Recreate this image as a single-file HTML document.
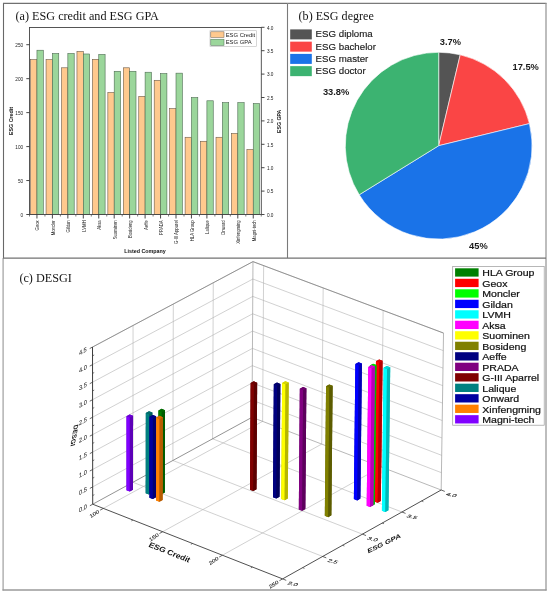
<!DOCTYPE html>
<html><head><meta charset="utf-8"><title>ESG figure</title>
<style>html,body{margin:0;padding:0;background:#fff;width:550px;height:595px;overflow:hidden}svg{display:block}</style>
</head><body>
<svg width="550" height="595" viewBox="0 0 550 595">
<rect width="550" height="595" fill="#fff"/>
<text x="15.5" y="19.6" font-family="Liberation Serif, Times New Roman, serif" font-size="12.2" fill="#151515">(a) ESG credit and ESG GPA</text>
<rect x="30.6" y="59.64" width="6.35" height="154.86" fill="#ffc98e" stroke="#6b5a48" stroke-width="0.6"/>
<rect x="36.95" y="50.23" width="6.35" height="164.27" fill="#9bd69b" stroke="#4d6b52" stroke-width="0.6"/>
<rect x="46.05" y="59.64" width="6.35" height="154.86" fill="#ffc98e" stroke="#6b5a48" stroke-width="0.6"/>
<rect x="52.4" y="53.51" width="6.35" height="160.99" fill="#9bd69b" stroke="#4d6b52" stroke-width="0.6"/>
<rect x="61.5" y="67.79" width="6.35" height="146.71" fill="#ffc98e" stroke="#6b5a48" stroke-width="0.6"/>
<rect x="67.85" y="53.51" width="6.35" height="160.99" fill="#9bd69b" stroke="#4d6b52" stroke-width="0.6"/>
<rect x="76.95" y="51.49" width="6.35" height="163.01" fill="#ffc98e" stroke="#6b5a48" stroke-width="0.6"/>
<rect x="83.3" y="53.98" width="6.35" height="160.52" fill="#9bd69b" stroke="#4d6b52" stroke-width="0.6"/>
<rect x="92.4" y="59.3" width="6.35" height="155.2" fill="#ffc98e" stroke="#6b5a48" stroke-width="0.6"/>
<rect x="98.75" y="54.44" width="6.35" height="160.06" fill="#9bd69b" stroke="#4d6b52" stroke-width="0.6"/>
<rect x="107.85" y="92.52" width="6.35" height="121.98" fill="#ffc98e" stroke="#6b5a48" stroke-width="0.6"/>
<rect x="114.2" y="71.29" width="6.35" height="143.21" fill="#9bd69b" stroke="#4d6b52" stroke-width="0.6"/>
<rect x="123.3" y="67.79" width="6.35" height="146.71" fill="#ffc98e" stroke="#6b5a48" stroke-width="0.6"/>
<rect x="129.65" y="71.29" width="6.35" height="143.21" fill="#9bd69b" stroke="#4d6b52" stroke-width="0.6"/>
<rect x="138.75" y="96.32" width="6.35" height="118.18" fill="#ffc98e" stroke="#6b5a48" stroke-width="0.6"/>
<rect x="145.1" y="72.23" width="6.35" height="142.27" fill="#9bd69b" stroke="#4d6b52" stroke-width="0.6"/>
<rect x="154.2" y="80.29" width="6.35" height="134.21" fill="#ffc98e" stroke="#6b5a48" stroke-width="0.6"/>
<rect x="160.55" y="73.63" width="6.35" height="140.87" fill="#9bd69b" stroke="#4d6b52" stroke-width="0.6"/>
<rect x="169.65" y="108.54" width="6.35" height="105.96" fill="#ffc98e" stroke="#6b5a48" stroke-width="0.6"/>
<rect x="176" y="73.16" width="6.35" height="141.34" fill="#9bd69b" stroke="#4d6b52" stroke-width="0.6"/>
<rect x="185.1" y="137.27" width="6.35" height="77.23" fill="#ffc98e" stroke="#6b5a48" stroke-width="0.6"/>
<rect x="191.45" y="97.5" width="6.35" height="117" fill="#9bd69b" stroke="#4d6b52" stroke-width="0.6"/>
<rect x="200.55" y="141.28" width="6.35" height="73.22" fill="#ffc98e" stroke="#6b5a48" stroke-width="0.6"/>
<rect x="206.9" y="100.78" width="6.35" height="113.72" fill="#9bd69b" stroke="#4d6b52" stroke-width="0.6"/>
<rect x="216" y="137.27" width="6.35" height="77.23" fill="#ffc98e" stroke="#6b5a48" stroke-width="0.6"/>
<rect x="222.35" y="102.65" width="6.35" height="111.85" fill="#9bd69b" stroke="#4d6b52" stroke-width="0.6"/>
<rect x="231.45" y="133.47" width="6.35" height="81.03" fill="#ffc98e" stroke="#6b5a48" stroke-width="0.6"/>
<rect x="237.8" y="102.65" width="6.35" height="111.85" fill="#9bd69b" stroke="#4d6b52" stroke-width="0.6"/>
<rect x="246.9" y="149.57" width="6.35" height="64.93" fill="#ffc98e" stroke="#6b5a48" stroke-width="0.6"/>
<rect x="253.25" y="103.58" width="6.35" height="110.92" fill="#9bd69b" stroke="#4d6b52" stroke-width="0.6"/>
<rect x="29.5" y="27.5" width="231.8" height="187" fill="none" stroke="#444" stroke-width="0.9"/>
<line x1="26.3" y1="214.5" x2="29.5" y2="214.5" stroke="#333" stroke-width="0.9"/>
<text x="23.2" y="216.5" font-family="Liberation Sans, Arial, sans-serif" font-size="4.7" fill="#222" text-anchor="end">0</text>
<line x1="26.3" y1="180.54" x2="29.5" y2="180.54" stroke="#333" stroke-width="0.9"/>
<text x="23.2" y="182.54" font-family="Liberation Sans, Arial, sans-serif" font-size="4.7" fill="#222" text-anchor="end">50</text>
<line x1="26.3" y1="146.58" x2="29.5" y2="146.58" stroke="#333" stroke-width="0.9"/>
<text x="23.2" y="148.58" font-family="Liberation Sans, Arial, sans-serif" font-size="4.7" fill="#222" text-anchor="end">100</text>
<line x1="26.3" y1="112.62" x2="29.5" y2="112.62" stroke="#333" stroke-width="0.9"/>
<text x="23.2" y="114.62" font-family="Liberation Sans, Arial, sans-serif" font-size="4.7" fill="#222" text-anchor="end">150</text>
<line x1="26.3" y1="78.66" x2="29.5" y2="78.66" stroke="#333" stroke-width="0.9"/>
<text x="23.2" y="80.66" font-family="Liberation Sans, Arial, sans-serif" font-size="4.7" fill="#222" text-anchor="end">200</text>
<line x1="26.3" y1="44.7" x2="29.5" y2="44.7" stroke="#333" stroke-width="0.9"/>
<text x="23.2" y="46.7" font-family="Liberation Sans, Arial, sans-serif" font-size="4.7" fill="#222" text-anchor="end">250</text>
<line x1="261.3" y1="214.5" x2="264.5" y2="214.5" stroke="#333" stroke-width="0.9"/>
<text x="266.9" y="216.7" font-family="Liberation Sans, Arial, sans-serif" font-size="4.7" fill="#222">0.0</text>
<line x1="261.3" y1="191.1" x2="264.5" y2="191.1" stroke="#333" stroke-width="0.9"/>
<text x="266.9" y="193.3" font-family="Liberation Sans, Arial, sans-serif" font-size="4.7" fill="#222">0.5</text>
<line x1="261.3" y1="167.7" x2="264.5" y2="167.7" stroke="#333" stroke-width="0.9"/>
<text x="266.9" y="169.9" font-family="Liberation Sans, Arial, sans-serif" font-size="4.7" fill="#222">1.0</text>
<line x1="261.3" y1="144.3" x2="264.5" y2="144.3" stroke="#333" stroke-width="0.9"/>
<text x="266.9" y="146.5" font-family="Liberation Sans, Arial, sans-serif" font-size="4.7" fill="#222">1.5</text>
<line x1="261.3" y1="120.9" x2="264.5" y2="120.9" stroke="#333" stroke-width="0.9"/>
<text x="266.9" y="123.1" font-family="Liberation Sans, Arial, sans-serif" font-size="4.7" fill="#222">2.0</text>
<line x1="261.3" y1="97.5" x2="264.5" y2="97.5" stroke="#333" stroke-width="0.9"/>
<text x="266.9" y="99.7" font-family="Liberation Sans, Arial, sans-serif" font-size="4.7" fill="#222">2.5</text>
<line x1="261.3" y1="74.1" x2="264.5" y2="74.1" stroke="#333" stroke-width="0.9"/>
<text x="266.9" y="76.3" font-family="Liberation Sans, Arial, sans-serif" font-size="4.7" fill="#222">3.0</text>
<line x1="261.3" y1="50.7" x2="264.5" y2="50.7" stroke="#333" stroke-width="0.9"/>
<text x="266.9" y="52.9" font-family="Liberation Sans, Arial, sans-serif" font-size="4.7" fill="#222">3.5</text>
<line x1="261.3" y1="27.3" x2="264.5" y2="27.3" stroke="#333" stroke-width="0.9"/>
<text x="266.9" y="29.5" font-family="Liberation Sans, Arial, sans-serif" font-size="4.7" fill="#222">4.0</text>
<line x1="29.5" y1="214.5" x2="29.5" y2="216.5" stroke="#444" stroke-width="0.7"/>
<line x1="44.95" y1="214.5" x2="44.95" y2="216.5" stroke="#444" stroke-width="0.7"/>
<line x1="60.4" y1="214.5" x2="60.4" y2="216.5" stroke="#444" stroke-width="0.7"/>
<line x1="75.85" y1="214.5" x2="75.85" y2="216.5" stroke="#444" stroke-width="0.7"/>
<line x1="91.3" y1="214.5" x2="91.3" y2="216.5" stroke="#444" stroke-width="0.7"/>
<line x1="106.75" y1="214.5" x2="106.75" y2="216.5" stroke="#444" stroke-width="0.7"/>
<line x1="122.2" y1="214.5" x2="122.2" y2="216.5" stroke="#444" stroke-width="0.7"/>
<line x1="137.65" y1="214.5" x2="137.65" y2="216.5" stroke="#444" stroke-width="0.7"/>
<line x1="153.1" y1="214.5" x2="153.1" y2="216.5" stroke="#444" stroke-width="0.7"/>
<line x1="168.55" y1="214.5" x2="168.55" y2="216.5" stroke="#444" stroke-width="0.7"/>
<line x1="184" y1="214.5" x2="184" y2="216.5" stroke="#444" stroke-width="0.7"/>
<line x1="199.45" y1="214.5" x2="199.45" y2="216.5" stroke="#444" stroke-width="0.7"/>
<line x1="214.9" y1="214.5" x2="214.9" y2="216.5" stroke="#444" stroke-width="0.7"/>
<line x1="230.35" y1="214.5" x2="230.35" y2="216.5" stroke="#444" stroke-width="0.7"/>
<line x1="245.8" y1="214.5" x2="245.8" y2="216.5" stroke="#444" stroke-width="0.7"/>
<line x1="261.25" y1="214.5" x2="261.25" y2="216.5" stroke="#444" stroke-width="0.7"/>
<line x1="36.95" y1="214.5" x2="36.95" y2="218.5" stroke="#333" stroke-width="0.9"/>
<text transform="translate(39.35,220.3) rotate(-90) scale(0.9,1)" font-family="Liberation Sans, Arial, sans-serif" font-size="4.7" fill="#222" text-anchor="end">Geox</text>
<line x1="52.4" y1="214.5" x2="52.4" y2="218.5" stroke="#333" stroke-width="0.9"/>
<text transform="translate(54.8,220.3) rotate(-90) scale(0.9,1)" font-family="Liberation Sans, Arial, sans-serif" font-size="4.7" fill="#222" text-anchor="end">Moncler</text>
<line x1="67.85" y1="214.5" x2="67.85" y2="218.5" stroke="#333" stroke-width="0.9"/>
<text transform="translate(70.25,220.3) rotate(-90) scale(0.9,1)" font-family="Liberation Sans, Arial, sans-serif" font-size="4.7" fill="#222" text-anchor="end">Gildan</text>
<line x1="83.3" y1="214.5" x2="83.3" y2="218.5" stroke="#333" stroke-width="0.9"/>
<text transform="translate(85.7,220.3) rotate(-90) scale(0.9,1)" font-family="Liberation Sans, Arial, sans-serif" font-size="4.7" fill="#222" text-anchor="end">LVMH</text>
<line x1="98.75" y1="214.5" x2="98.75" y2="218.5" stroke="#333" stroke-width="0.9"/>
<text transform="translate(101.15,220.3) rotate(-90) scale(0.9,1)" font-family="Liberation Sans, Arial, sans-serif" font-size="4.7" fill="#222" text-anchor="end">Aksa</text>
<line x1="114.2" y1="214.5" x2="114.2" y2="218.5" stroke="#333" stroke-width="0.9"/>
<text transform="translate(116.6,220.3) rotate(-90) scale(0.9,1)" font-family="Liberation Sans, Arial, sans-serif" font-size="4.7" fill="#222" text-anchor="end">Suominen</text>
<line x1="129.65" y1="214.5" x2="129.65" y2="218.5" stroke="#333" stroke-width="0.9"/>
<text transform="translate(132.05,220.3) rotate(-90) scale(0.9,1)" font-family="Liberation Sans, Arial, sans-serif" font-size="4.7" fill="#222" text-anchor="end">Bosideng</text>
<line x1="145.1" y1="214.5" x2="145.1" y2="218.5" stroke="#333" stroke-width="0.9"/>
<text transform="translate(147.5,220.3) rotate(-90) scale(0.9,1)" font-family="Liberation Sans, Arial, sans-serif" font-size="4.7" fill="#222" text-anchor="end">Aeffe</text>
<line x1="160.55" y1="214.5" x2="160.55" y2="218.5" stroke="#333" stroke-width="0.9"/>
<text transform="translate(162.95,220.3) rotate(-90) scale(0.9,1)" font-family="Liberation Sans, Arial, sans-serif" font-size="4.7" fill="#222" text-anchor="end">PRADA</text>
<line x1="176" y1="214.5" x2="176" y2="218.5" stroke="#333" stroke-width="0.9"/>
<text transform="translate(178.4,220.3) rotate(-90) scale(0.9,1)" font-family="Liberation Sans, Arial, sans-serif" font-size="4.7" fill="#222" text-anchor="end">G-III Apparel</text>
<line x1="191.45" y1="214.5" x2="191.45" y2="218.5" stroke="#333" stroke-width="0.9"/>
<text transform="translate(193.85,220.3) rotate(-90) scale(0.9,1)" font-family="Liberation Sans, Arial, sans-serif" font-size="4.7" fill="#222" text-anchor="end">HLA Group</text>
<line x1="206.9" y1="214.5" x2="206.9" y2="218.5" stroke="#333" stroke-width="0.9"/>
<text transform="translate(209.3,220.3) rotate(-90) scale(0.9,1)" font-family="Liberation Sans, Arial, sans-serif" font-size="4.7" fill="#222" text-anchor="end">Lalique</text>
<line x1="222.35" y1="214.5" x2="222.35" y2="218.5" stroke="#333" stroke-width="0.9"/>
<text transform="translate(224.75,220.3) rotate(-90) scale(0.9,1)" font-family="Liberation Sans, Arial, sans-serif" font-size="4.7" fill="#222" text-anchor="end">Onward</text>
<line x1="237.8" y1="214.5" x2="237.8" y2="218.5" stroke="#333" stroke-width="0.9"/>
<text transform="translate(240.2,220.3) rotate(-90) scale(0.9,1)" font-family="Liberation Sans, Arial, sans-serif" font-size="4.7" fill="#222" text-anchor="end">Xinfengming</text>
<line x1="253.25" y1="214.5" x2="253.25" y2="218.5" stroke="#333" stroke-width="0.9"/>
<text transform="translate(255.65,220.3) rotate(-90) scale(0.9,1)" font-family="Liberation Sans, Arial, sans-serif" font-size="4.7" fill="#222" text-anchor="end">Magni-tech</text>
<text x="145" y="253.3" font-family="Liberation Sans, Arial, sans-serif" font-size="5.35" font-weight="bold" fill="#111" text-anchor="middle">Listed Company</text>
<text transform="translate(12.7,121) rotate(-90)" font-family="Liberation Sans, Arial, sans-serif" font-size="5.35" font-weight="bold" fill="#111" text-anchor="middle">ESG Credit</text>
<text transform="translate(280.6,121.3) rotate(-90)" font-family="Liberation Sans, Arial, sans-serif" font-size="5.2" font-weight="bold" fill="#111" text-anchor="middle">ESG GPA</text>
<rect x="210" y="30.7" width="46.5" height="15.6" fill="#fff" stroke="#bbb" stroke-width="0.6"/>
<rect x="210.8" y="31.8" width="13.2" height="5.6" fill="#ffc98e" stroke="#6b5a48" stroke-width="0.5"/>
<rect x="210.8" y="39.2" width="13.2" height="6.2" fill="#9bd69b" stroke="#4d6b52" stroke-width="0.5"/>
<text x="225.7" y="37" font-family="Liberation Sans, Arial, sans-serif" font-size="5.85" fill="#222">ESG Credit</text>
<text x="225.7" y="44.3" font-family="Liberation Sans, Arial, sans-serif" font-size="5.85" fill="#222">ESG GPA</text>
<text x="298.6" y="19.8" font-family="Liberation Serif, Times New Roman, serif" font-size="12.1" fill="#151515">(b) ESG degree</text>
<path d="M438.7,145.7 L438.7,52.3 A93.4,93.4 0 0 1 460.22,54.81 Z" fill="#545454" stroke="#fff" stroke-width="0.6" stroke-linejoin="round"/>
<path d="M438.7,145.7 L460.22,54.81 A93.4,93.4 0 0 1 529.45,123.61 Z" fill="#fa4545" stroke="#fff" stroke-width="0.6" stroke-linejoin="round"/>
<path d="M438.7,145.7 L529.45,123.61 A93.4,93.4 0 0 1 359.22,194.75 Z" fill="#1a73e8" stroke="#fff" stroke-width="0.6" stroke-linejoin="round"/>
<path d="M438.7,145.7 L359.22,194.75 A93.4,93.4 0 0 1 438.7,52.3 Z" fill="#3cb371" stroke="#fff" stroke-width="0.6" stroke-linejoin="round"/>
<rect x="290.2" y="29.4" width="21.6" height="10" fill="#545454"/>
<text x="315.6" y="37.4" font-family="Liberation Sans, Arial, sans-serif" font-size="9.7" fill="#1a1a1a" stroke="#1a1a1a" stroke-width="0.15">ESG diploma</text>
<rect x="290.2" y="41.65" width="21.6" height="10" fill="#fa4545"/>
<text x="315.6" y="49.65" font-family="Liberation Sans, Arial, sans-serif" font-size="9.7" fill="#1a1a1a" stroke="#1a1a1a" stroke-width="0.15">ESG bachelor</text>
<rect x="290.2" y="53.9" width="21.6" height="10" fill="#1a73e8"/>
<text x="315.6" y="61.9" font-family="Liberation Sans, Arial, sans-serif" font-size="9.7" fill="#1a1a1a" stroke="#1a1a1a" stroke-width="0.15">ESG master</text>
<rect x="290.2" y="66.15" width="21.6" height="10" fill="#3cb371"/>
<text x="315.6" y="74.15" font-family="Liberation Sans, Arial, sans-serif" font-size="9.7" fill="#1a1a1a" stroke="#1a1a1a" stroke-width="0.15">ESG doctor</text>
<text x="439.8" y="44.8" font-family="Liberation Sans, Arial, sans-serif" font-size="9.3" font-weight="bold" fill="#1a1a1a">3.7%</text>
<text x="512.5" y="70.4" font-family="Liberation Sans, Arial, sans-serif" font-size="9.3" font-weight="bold" fill="#1a1a1a">17.5%</text>
<text x="469.1" y="248.5" font-family="Liberation Sans, Arial, sans-serif" font-size="9.3" font-weight="bold" fill="#1a1a1a">45%</text>
<text x="322.9" y="94.6" font-family="Liberation Sans, Arial, sans-serif" font-size="9.3" font-weight="bold" fill="#1a1a1a">33.8%</text>
<text x="19.4" y="282.4" font-family="Liberation Serif, Times New Roman, serif" font-size="12.2" fill="#151515">(c) DESGI</text>
<line x1="92.69" y1="486.86" x2="252.12" y2="400.12" stroke="#b2b2b2" stroke-width="0.6"/>
<line x1="92.67" y1="469.48" x2="252.23" y2="382.9" stroke="#b2b2b2" stroke-width="0.6"/>
<line x1="92.65" y1="452.07" x2="252.34" y2="365.66" stroke="#b2b2b2" stroke-width="0.6"/>
<line x1="92.63" y1="434.64" x2="252.44" y2="348.39" stroke="#b2b2b2" stroke-width="0.6"/>
<line x1="92.61" y1="417.18" x2="252.55" y2="331.09" stroke="#b2b2b2" stroke-width="0.6"/>
<line x1="92.59" y1="399.69" x2="252.66" y2="313.77" stroke="#b2b2b2" stroke-width="0.6"/>
<line x1="92.57" y1="382.17" x2="252.77" y2="296.41" stroke="#b2b2b2" stroke-width="0.6"/>
<line x1="92.55" y1="364.62" x2="252.87" y2="279.03" stroke="#b2b2b2" stroke-width="0.6"/>
<line x1="92.53" y1="347.05" x2="252.98" y2="261.62" stroke="#b2b2b2" stroke-width="0.6"/>
<line x1="132.94" y1="482.27" x2="133.05" y2="325.48" stroke="#b2b2b2" stroke-width="0.6"/>
<line x1="172.9" y1="460.47" x2="173.3" y2="304.05" stroke="#b2b2b2" stroke-width="0.6"/>
<line x1="212.59" y1="438.82" x2="213.27" y2="282.77" stroke="#b2b2b2" stroke-width="0.6"/>
<line x1="252.12" y1="400.12" x2="441.43" y2="472.68" stroke="#b2b2b2" stroke-width="0.6"/>
<line x1="252.23" y1="382.9" x2="441.69" y2="455.33" stroke="#b2b2b2" stroke-width="0.6"/>
<line x1="252.34" y1="365.66" x2="441.95" y2="437.94" stroke="#b2b2b2" stroke-width="0.6"/>
<line x1="252.44" y1="348.39" x2="442.21" y2="420.53" stroke="#b2b2b2" stroke-width="0.6"/>
<line x1="252.55" y1="331.09" x2="442.47" y2="403.1" stroke="#b2b2b2" stroke-width="0.6"/>
<line x1="252.66" y1="313.77" x2="442.74" y2="385.63" stroke="#b2b2b2" stroke-width="0.6"/>
<line x1="252.77" y1="296.41" x2="443" y2="368.14" stroke="#b2b2b2" stroke-width="0.6"/>
<line x1="252.87" y1="279.03" x2="443.26" y2="350.61" stroke="#b2b2b2" stroke-width="0.6"/>
<line x1="252.98" y1="261.62" x2="443.52" y2="333.06" stroke="#b2b2b2" stroke-width="0.6"/>
<line x1="262.61" y1="421.38" x2="263.65" y2="265.62" stroke="#b2b2b2" stroke-width="0.6"/>
<line x1="321.71" y1="444.09" x2="323.18" y2="287.94" stroke="#b2b2b2" stroke-width="0.6"/>
<line x1="381.23" y1="466.97" x2="383.13" y2="310.42" stroke="#b2b2b2" stroke-width="0.6"/>
<line x1="103.34" y1="508.39" x2="262.61" y2="421.38" stroke="#b2b2b2" stroke-width="0.6"/>
<line x1="162.67" y1="531.73" x2="321.71" y2="444.09" stroke="#b2b2b2" stroke-width="0.6"/>
<line x1="222.42" y1="555.23" x2="381.23" y2="466.97" stroke="#b2b2b2" stroke-width="0.6"/>
<line x1="132.94" y1="482.27" x2="322.65" y2="556.45" stroke="#b2b2b2" stroke-width="0.6"/>
<line x1="172.9" y1="460.47" x2="362.42" y2="534.16" stroke="#b2b2b2" stroke-width="0.6"/>
<line x1="212.59" y1="438.82" x2="401.93" y2="512.01" stroke="#b2b2b2" stroke-width="0.6"/>
<line x1="92.53" y1="347.05" x2="252.98" y2="261.62" stroke="#777" stroke-width="0.7"/>
<line x1="252.98" y1="261.62" x2="443.52" y2="333.06" stroke="#777" stroke-width="0.7"/>
<line x1="252.02" y1="417.31" x2="252.98" y2="261.62" stroke="#999" stroke-width="0.7"/>
<line x1="441.18" y1="490.01" x2="443.52" y2="333.06" stroke="#999" stroke-width="0.7"/>
<line x1="92.71" y1="504.21" x2="252.02" y2="417.31" stroke="#666" stroke-width="0.7"/>
<line x1="252.02" y1="417.31" x2="441.18" y2="490.01" stroke="#888" stroke-width="0.6"/>
<line x1="92.71" y1="504.21" x2="92.53" y2="347.05" stroke="#3c3c3c" stroke-width="1.0"/>
<line x1="92.71" y1="504.21" x2="282.6" y2="578.9" stroke="#3c3c3c" stroke-width="0.9"/>
<line x1="282.6" y1="578.9" x2="441.18" y2="490.01" stroke="#3c3c3c" stroke-width="0.9"/>
<line x1="92.71" y1="504.21" x2="89.89" y2="505.75" stroke="#3c3c3c" stroke-width="0.8"/>
<text transform="matrix(0.88,-0.47,0,1,79.11,512.61)" font-family="Liberation Sans, Arial, sans-serif" font-size="6.4" fill="#2a2a2a" stroke="#2a2a2a" stroke-width="0.06">0.0</text>
<line x1="92.7" y1="495.54" x2="94.32" y2="494.66" stroke="#3c3c3c" stroke-width="0.7"/>
<line x1="92.69" y1="486.86" x2="89.86" y2="488.4" stroke="#3c3c3c" stroke-width="0.8"/>
<text transform="matrix(0.88,-0.47,0,1,79.09,495.26)" font-family="Liberation Sans, Arial, sans-serif" font-size="6.4" fill="#2a2a2a" stroke="#2a2a2a" stroke-width="0.06">0.5</text>
<line x1="92.68" y1="478.17" x2="94.3" y2="477.3" stroke="#3c3c3c" stroke-width="0.7"/>
<line x1="92.67" y1="469.48" x2="89.84" y2="471.02" stroke="#3c3c3c" stroke-width="0.8"/>
<text transform="matrix(0.88,-0.47,0,1,79.07,477.88)" font-family="Liberation Sans, Arial, sans-serif" font-size="6.4" fill="#2a2a2a" stroke="#2a2a2a" stroke-width="0.06">1.0</text>
<line x1="92.66" y1="460.78" x2="94.28" y2="459.9" stroke="#3c3c3c" stroke-width="0.7"/>
<line x1="92.65" y1="452.07" x2="89.82" y2="453.61" stroke="#3c3c3c" stroke-width="0.8"/>
<text transform="matrix(0.88,-0.47,0,1,79.05,460.47)" font-family="Liberation Sans, Arial, sans-serif" font-size="6.4" fill="#2a2a2a" stroke="#2a2a2a" stroke-width="0.06">1.5</text>
<line x1="92.64" y1="443.36" x2="94.26" y2="442.49" stroke="#3c3c3c" stroke-width="0.7"/>
<line x1="92.63" y1="434.64" x2="89.8" y2="436.17" stroke="#3c3c3c" stroke-width="0.8"/>
<text transform="matrix(0.88,-0.47,0,1,79.03,443.04)" font-family="Liberation Sans, Arial, sans-serif" font-size="6.4" fill="#2a2a2a" stroke="#2a2a2a" stroke-width="0.06">2.0</text>
<line x1="92.62" y1="425.91" x2="94.24" y2="425.04" stroke="#3c3c3c" stroke-width="0.7"/>
<line x1="92.61" y1="417.18" x2="89.78" y2="418.71" stroke="#3c3c3c" stroke-width="0.8"/>
<text transform="matrix(0.88,-0.47,0,1,79.01,425.58)" font-family="Liberation Sans, Arial, sans-serif" font-size="6.4" fill="#2a2a2a" stroke="#2a2a2a" stroke-width="0.06">2.5</text>
<line x1="92.6" y1="408.44" x2="94.22" y2="407.56" stroke="#3c3c3c" stroke-width="0.7"/>
<line x1="92.59" y1="399.69" x2="89.75" y2="401.21" stroke="#3c3c3c" stroke-width="0.8"/>
<text transform="matrix(0.88,-0.47,0,1,78.99,408.09)" font-family="Liberation Sans, Arial, sans-serif" font-size="6.4" fill="#2a2a2a" stroke="#2a2a2a" stroke-width="0.06">3.0</text>
<line x1="92.58" y1="390.93" x2="94.21" y2="390.06" stroke="#3c3c3c" stroke-width="0.7"/>
<line x1="92.57" y1="382.17" x2="89.73" y2="383.69" stroke="#3c3c3c" stroke-width="0.8"/>
<text transform="matrix(0.88,-0.47,0,1,78.97,390.57)" font-family="Liberation Sans, Arial, sans-serif" font-size="6.4" fill="#2a2a2a" stroke="#2a2a2a" stroke-width="0.06">3.5</text>
<line x1="92.56" y1="373.4" x2="94.19" y2="372.53" stroke="#3c3c3c" stroke-width="0.7"/>
<line x1="92.55" y1="364.62" x2="89.71" y2="366.14" stroke="#3c3c3c" stroke-width="0.8"/>
<text transform="matrix(0.88,-0.47,0,1,78.95,373.02)" font-family="Liberation Sans, Arial, sans-serif" font-size="6.4" fill="#2a2a2a" stroke="#2a2a2a" stroke-width="0.06">4.0</text>
<line x1="92.54" y1="355.84" x2="94.17" y2="354.97" stroke="#3c3c3c" stroke-width="0.7"/>
<line x1="92.53" y1="347.05" x2="89.69" y2="348.56" stroke="#3c3c3c" stroke-width="0.8"/>
<text transform="matrix(0.88,-0.47,0,1,78.93,355.45)" font-family="Liberation Sans, Arial, sans-serif" font-size="6.4" fill="#2a2a2a" stroke="#2a2a2a" stroke-width="0.06">4.5</text>
<line x1="103.34" y1="508.39" x2="100.11" y2="510.16" stroke="#3c3c3c" stroke-width="0.8"/>
<text transform="matrix(0.84,-0.55,0.38,0.68,95.34,515.39)" font-family="Liberation Sans, Arial, sans-serif" font-size="6.4" fill="#222" stroke="#222" stroke-width="0.12" text-anchor="middle">100</text>
<line x1="162.67" y1="531.73" x2="159.44" y2="533.5" stroke="#3c3c3c" stroke-width="0.8"/>
<text transform="matrix(0.84,-0.55,0.38,0.68,154.67,538.73)" font-family="Liberation Sans, Arial, sans-serif" font-size="6.4" fill="#222" stroke="#222" stroke-width="0.12" text-anchor="middle">150</text>
<line x1="222.42" y1="555.23" x2="219.2" y2="557.02" stroke="#3c3c3c" stroke-width="0.8"/>
<text transform="matrix(0.84,-0.55,0.38,0.68,214.42,562.23)" font-family="Liberation Sans, Arial, sans-serif" font-size="6.4" fill="#222" stroke="#222" stroke-width="0.12" text-anchor="middle">200</text>
<line x1="282.6" y1="578.9" x2="279.39" y2="580.71" stroke="#3c3c3c" stroke-width="0.8"/>
<text transform="matrix(0.84,-0.55,0.38,0.68,274.6,585.9)" font-family="Liberation Sans, Arial, sans-serif" font-size="6.4" fill="#222" stroke="#222" stroke-width="0.12" text-anchor="middle">250</text>
<line x1="132.95" y1="520.04" x2="131.34" y2="520.92" stroke="#3c3c3c" stroke-width="0.7"/>
<line x1="192.49" y1="543.46" x2="190.88" y2="544.35" stroke="#3c3c3c" stroke-width="0.7"/>
<line x1="252.45" y1="567.04" x2="250.85" y2="567.94" stroke="#3c3c3c" stroke-width="0.7"/>
<line x1="282.6" y1="578.9" x2="286.23" y2="580.33" stroke="#3c3c3c" stroke-width="0.8"/>
<text transform="matrix(0.98,0.2,-0.5,0.55,291.6,585.2)" font-family="Liberation Sans, Arial, sans-serif" font-size="7.2" fill="#222" stroke="#222" stroke-width="0.15" text-anchor="middle">2.0</text>
<line x1="322.65" y1="556.45" x2="326.27" y2="557.87" stroke="#3c3c3c" stroke-width="0.8"/>
<text transform="matrix(0.98,0.2,-0.5,0.55,331.65,562.75)" font-family="Liberation Sans, Arial, sans-serif" font-size="7.2" fill="#222" stroke="#222" stroke-width="0.15" text-anchor="middle">2.5</text>
<line x1="362.42" y1="534.16" x2="366.04" y2="535.56" stroke="#3c3c3c" stroke-width="0.8"/>
<text transform="matrix(0.98,0.2,-0.5,0.55,371.42,540.46)" font-family="Liberation Sans, Arial, sans-serif" font-size="7.2" fill="#222" stroke="#222" stroke-width="0.15" text-anchor="middle">3.0</text>
<line x1="401.93" y1="512.01" x2="405.55" y2="513.4" stroke="#3c3c3c" stroke-width="0.8"/>
<text transform="matrix(0.98,0.2,-0.5,0.55,410.93,518.31)" font-family="Liberation Sans, Arial, sans-serif" font-size="7.2" fill="#222" stroke="#222" stroke-width="0.15" text-anchor="middle">3.5</text>
<line x1="441.18" y1="490.01" x2="444.79" y2="491.4" stroke="#3c3c3c" stroke-width="0.8"/>
<text transform="matrix(0.98,0.2,-0.5,0.55,450.18,496.31)" font-family="Liberation Sans, Arial, sans-serif" font-size="7.2" fill="#222" stroke="#222" stroke-width="0.15" text-anchor="middle">4.0</text>
<line x1="302.66" y1="567.66" x2="304.47" y2="568.37" stroke="#3c3c3c" stroke-width="0.7"/>
<line x1="342.57" y1="545.29" x2="344.38" y2="545.99" stroke="#3c3c3c" stroke-width="0.7"/>
<line x1="382.21" y1="523.06" x2="384.02" y2="523.76" stroke="#3c3c3c" stroke-width="0.7"/>
<line x1="421.59" y1="500.99" x2="423.39" y2="501.69" stroke="#3c3c3c" stroke-width="0.7"/>
<text transform="matrix(0.93,0.37,-0.45,0.8,168.3,554.5)" font-family="Liberation Sans, Arial, sans-serif" font-size="8.3" font-weight="bold" fill="#111" text-anchor="middle">ESG Credit</text>
<text transform="matrix(0.9,-0.44,0.15,0.75,384.5,545.5)" font-family="Liberation Sans, Arial, sans-serif" font-size="8.2" font-weight="bold" fill="#111" text-anchor="middle">ESG GPA</text>
<text transform="matrix(-0.17,0.985,-0.92,0.25,72.2,436)" font-family="Liberation Sans, Arial, sans-serif" font-size="7" font-weight="bold" fill="#111" text-anchor="middle">DESGI</text>
<polygon points="126.47,490.31 129.78,491.61 132.99,489.85 133.04,415.86 129.72,414.58 126.5,416.32" fill="#6600cc"/>
<polygon points="126.47,490.31 129.78,491.61 129.82,417.6 126.5,416.32" fill="#8000ff"/>
<polygon points="129.78,491.61 132.99,489.85 133.04,415.86 129.82,417.6" fill="#5c00b7"/>
<polygon points="126.5,416.32 129.82,417.6 133.04,415.86 129.72,414.58" fill="#6c00d8"/>
<polygon points="145.71,493.33 149.02,494.62 152.23,492.87 152.35,412.57 149.02,411.29 145.8,413.03" fill="#006666"/>
<polygon points="145.71,493.33 149.02,494.62 149.13,414.31 145.8,413.03" fill="#008080"/>
<polygon points="149.02,494.62 152.23,492.87 152.35,412.57 149.13,414.31" fill="#005c5c"/>
<polygon points="145.8,413.03 149.13,414.31 152.35,412.57 149.02,411.29" fill="#006c6c"/>
<polygon points="158.3,492.98 161.61,494.28 164.82,492.52 164.99,410.14 161.66,408.85 158.45,410.59" fill="#006600"/>
<polygon points="158.3,492.98 161.61,494.28 161.77,411.88 158.45,410.59" fill="#008000"/>
<polygon points="161.61,494.28 164.82,492.52 164.99,410.14 161.77,411.88" fill="#005c00"/>
<polygon points="158.45,410.59 161.77,411.88 164.99,410.14 161.66,408.85" fill="#006c00"/>
<polygon points="249.99,489.74 253.32,491.04 256.5,489.28 257.17,382.65 253.83,381.37 250.63,383.1" fill="#660000"/>
<polygon points="249.99,489.74 253.32,491.04 253.98,384.38 250.63,383.1" fill="#800000"/>
<polygon points="253.32,491.04 256.5,489.28 257.17,382.65 253.98,384.38" fill="#5c0000"/>
<polygon points="250.63,383.1 253.98,384.38 257.17,382.65 253.83,381.37" fill="#6c0000"/>
<polygon points="149.47,497.81 152.79,499.11 156,497.35 156.14,416.32 152.81,415.03 149.59,416.78" fill="#000080"/>
<polygon points="149.47,497.81 152.79,499.11 152.91,418.06 149.59,416.78" fill="#0000a0"/>
<polygon points="152.79,499.11 156,497.35 156.14,416.32 152.91,418.06" fill="#000073"/>
<polygon points="149.59,416.78 152.91,418.06 156.14,416.32 152.81,415.03" fill="#000088"/>
<polygon points="156.1,500.41 159.42,501.71 162.63,499.95 162.8,417.15 159.47,415.86 156.25,417.6" fill="#cc6600"/>
<polygon points="156.1,500.41 159.42,501.71 159.58,418.89 156.25,417.6" fill="#ff8000"/>
<polygon points="159.42,501.71 162.63,499.95 162.8,417.15 159.58,418.89" fill="#b75c00"/>
<polygon points="156.25,417.6 159.58,418.89 162.8,417.15 159.47,415.86" fill="#d86c00"/>
<polygon points="273.01,497.2 276.35,498.49 279.53,496.74 280.36,383.89 277.01,382.61 273.81,384.34" fill="#000066"/>
<polygon points="273.01,497.2 276.35,498.49 277.17,385.63 273.81,384.34" fill="#000080"/>
<polygon points="276.35,498.49 279.53,496.74 280.36,383.89 277.17,385.63" fill="#00005c"/>
<polygon points="273.81,384.34 277.17,385.63 280.36,383.89 277.01,382.61" fill="#00006c"/>
<polygon points="281.28,498.91 284.62,500.21 287.8,498.45 288.7,382.43 285.34,381.15 282.15,382.89" fill="#cccc00"/>
<polygon points="281.28,498.91 284.62,500.21 285.51,384.17 282.15,382.89" fill="#ffff00"/>
<polygon points="284.62,500.21 287.8,498.45 288.7,382.43 285.51,384.17" fill="#b7b700"/>
<polygon points="282.15,382.89 285.51,384.17 288.7,382.43 285.34,381.15" fill="#d8d800"/>
<polygon points="353.89,499.08 357.25,500.38 360.4,498.62 361.92,363.49 358.54,362.21 355.36,363.94" fill="#0000cc"/>
<polygon points="353.89,499.08 357.25,500.38 358.74,365.22 355.36,363.94" fill="#0000ff"/>
<polygon points="357.25,500.38 360.4,498.62 361.92,363.49 358.74,365.22" fill="#0000b7"/>
<polygon points="355.36,363.94 358.74,365.22 361.92,363.49 358.54,362.21" fill="#0000d8"/>
<polygon points="374.31,501.57 377.67,502.87 380.82,501.11 382.52,360.67 379.14,359.39 375.97,361.13" fill="#cc0000"/>
<polygon points="374.31,501.57 377.67,502.87 379.35,362.41 375.97,361.13" fill="#ff0000"/>
<polygon points="377.67,502.87 380.82,501.11 382.52,360.67 379.35,362.41" fill="#b70000"/>
<polygon points="375.97,361.13 379.35,362.41 382.52,360.67 379.14,359.39" fill="#d80000"/>
<polygon points="368.29,504.65 371.65,505.95 374.8,504.19 376.46,364.94 373.07,363.66 369.9,365.39" fill="#00cc00"/>
<polygon points="368.29,504.65 371.65,505.95 373.28,366.67 369.9,365.39" fill="#00ff00"/>
<polygon points="371.65,505.95 374.8,504.19 376.46,364.94 373.28,366.67" fill="#00b700"/>
<polygon points="369.9,365.39 373.28,366.67 376.46,364.94 373.07,363.66" fill="#00d800"/>
<polygon points="366.71,505.77 370.07,507.07 373.23,505.31 374.87,366.56 371.48,365.28 368.31,367.02" fill="#cc00cc"/>
<polygon points="366.71,505.77 370.07,507.07 371.69,368.3 368.31,367.02" fill="#ff00ff"/>
<polygon points="370.07,507.07 373.23,505.31 374.87,366.56 371.69,368.3" fill="#b700b7"/>
<polygon points="368.31,367.02 371.69,368.3 374.87,366.56 371.48,365.28" fill="#d800d8"/>
<polygon points="298.82,509.48 302.17,510.78 305.34,509.01 306.38,388.3 303.01,387.02 299.82,388.76" fill="#660066"/>
<polygon points="298.82,509.48 302.17,510.78 303.19,390.04 299.82,388.76" fill="#800080"/>
<polygon points="302.17,510.78 305.34,509.01 306.38,388.3 303.19,390.04" fill="#5c005c"/>
<polygon points="299.82,388.76 303.19,390.04 306.38,388.3 303.01,387.02" fill="#6c006c"/>
<polygon points="381.92,510.67 385.29,511.98 388.44,510.21 390.22,367.35 386.83,366.07 383.66,367.81" fill="#00cccc"/>
<polygon points="381.92,510.67 385.29,511.98 387.05,369.09 383.66,367.81" fill="#00ffff"/>
<polygon points="385.29,511.98 388.44,510.21 390.22,367.35 387.05,369.09" fill="#00b7b7"/>
<polygon points="383.66,367.81 387.05,369.09 390.22,367.35 386.83,366.07" fill="#00d8d8"/>
<polygon points="324.83,515.84 328.18,517.14 331.36,515.37 332.63,385.8 329.25,384.51 326.06,386.25" fill="#666600"/>
<polygon points="324.83,515.84 328.18,517.14 329.44,387.54 326.06,386.25" fill="#808000"/>
<polygon points="328.18,517.14 331.36,515.37 332.63,385.8 329.44,387.54" fill="#5c5c00"/>
<polygon points="326.06,386.25 329.44,387.54 332.63,385.8 329.25,384.51" fill="#6c6c00"/>
<rect x="452.7" y="266.4" width="91.5" height="158.8" fill="#fff" stroke="#999" stroke-width="0.7"/>
<rect x="455.1" y="268.3" width="23.5" height="8.3" fill="#008000"/>
<text transform="translate(482.3,276.2) scale(1.2,1)" font-family="Liberation Sans, Arial, sans-serif" font-size="8.8" fill="#111" stroke="#111" stroke-width="0.2">HLA Group</text>
<rect x="455.1" y="278.79" width="23.5" height="8.3" fill="#ff0000"/>
<text transform="translate(482.3,286.69) scale(1.2,1)" font-family="Liberation Sans, Arial, sans-serif" font-size="8.8" fill="#111" stroke="#111" stroke-width="0.2">Geox</text>
<rect x="455.1" y="289.28" width="23.5" height="8.3" fill="#00ff00"/>
<text transform="translate(482.3,297.18) scale(1.2,1)" font-family="Liberation Sans, Arial, sans-serif" font-size="8.8" fill="#111" stroke="#111" stroke-width="0.2">Moncler</text>
<rect x="455.1" y="299.77" width="23.5" height="8.3" fill="#0000ff"/>
<text transform="translate(482.3,307.67) scale(1.2,1)" font-family="Liberation Sans, Arial, sans-serif" font-size="8.8" fill="#111" stroke="#111" stroke-width="0.2">Gildan</text>
<rect x="455.1" y="310.26" width="23.5" height="8.3" fill="#00ffff"/>
<text transform="translate(482.3,318.16) scale(1.2,1)" font-family="Liberation Sans, Arial, sans-serif" font-size="8.8" fill="#111" stroke="#111" stroke-width="0.2">LVMH</text>
<rect x="455.1" y="320.75" width="23.5" height="8.3" fill="#ff00ff"/>
<text transform="translate(482.3,328.65) scale(1.2,1)" font-family="Liberation Sans, Arial, sans-serif" font-size="8.8" fill="#111" stroke="#111" stroke-width="0.2">Aksa</text>
<rect x="455.1" y="331.24" width="23.5" height="8.3" fill="#ffff00"/>
<text transform="translate(482.3,339.14) scale(1.2,1)" font-family="Liberation Sans, Arial, sans-serif" font-size="8.8" fill="#111" stroke="#111" stroke-width="0.2">Suominen</text>
<rect x="455.1" y="341.73" width="23.5" height="8.3" fill="#808000"/>
<text transform="translate(482.3,349.63) scale(1.2,1)" font-family="Liberation Sans, Arial, sans-serif" font-size="8.8" fill="#111" stroke="#111" stroke-width="0.2">Bosideng</text>
<rect x="455.1" y="352.22" width="23.5" height="8.3" fill="#000080"/>
<text transform="translate(482.3,360.12) scale(1.2,1)" font-family="Liberation Sans, Arial, sans-serif" font-size="8.8" fill="#111" stroke="#111" stroke-width="0.2">Aeffe</text>
<rect x="455.1" y="362.71" width="23.5" height="8.3" fill="#800080"/>
<text transform="translate(482.3,370.61) scale(1.2,1)" font-family="Liberation Sans, Arial, sans-serif" font-size="8.8" fill="#111" stroke="#111" stroke-width="0.2">PRADA</text>
<rect x="455.1" y="373.2" width="23.5" height="8.3" fill="#800000"/>
<text transform="translate(482.3,381.1) scale(1.2,1)" font-family="Liberation Sans, Arial, sans-serif" font-size="8.8" fill="#111" stroke="#111" stroke-width="0.2">G-III Aparrel</text>
<rect x="455.1" y="383.69" width="23.5" height="8.3" fill="#008080"/>
<text transform="translate(482.3,391.59) scale(1.2,1)" font-family="Liberation Sans, Arial, sans-serif" font-size="8.8" fill="#111" stroke="#111" stroke-width="0.2">Lalique</text>
<rect x="455.1" y="394.18" width="23.5" height="8.3" fill="#0000a0"/>
<text transform="translate(482.3,402.08) scale(1.2,1)" font-family="Liberation Sans, Arial, sans-serif" font-size="8.8" fill="#111" stroke="#111" stroke-width="0.2">Onward</text>
<rect x="455.1" y="404.67" width="23.5" height="8.3" fill="#ff8000"/>
<text transform="translate(482.3,412.57) scale(1.2,1)" font-family="Liberation Sans, Arial, sans-serif" font-size="8.8" fill="#111" stroke="#111" stroke-width="0.2">Xinfengming</text>
<rect x="455.1" y="415.16" width="23.5" height="8.3" fill="#8000ff"/>
<text transform="translate(482.3,423.06) scale(1.2,1)" font-family="Liberation Sans, Arial, sans-serif" font-size="8.8" fill="#111" stroke="#111" stroke-width="0.2">Magni-tech</text>
<line x1="3.5" y1="3" x2="3.5" y2="258" stroke="#686868" stroke-width="1.1"/>
<line x1="3" y1="3.4" x2="287.5" y2="3.4" stroke="#707070" stroke-width="1.1"/>
<line x1="287.5" y1="3.4" x2="546.5" y2="3.4" stroke="#7a7a7a" stroke-width="1.1"/>
<line x1="3.1" y1="258" x2="3.1" y2="590.5" stroke="#a6a6a6" stroke-width="1.3"/>
<line x1="546" y1="3" x2="546" y2="590.5" stroke="#9a9a9a" stroke-width="1.3"/>
<line x1="2.5" y1="590" x2="546.6" y2="590" stroke="#9a9a9a" stroke-width="1.3"/>
<line x1="287.5" y1="3.4" x2="287.5" y2="258" stroke="#7a7a7a" stroke-width="1.1"/>
<line x1="3" y1="258.1" x2="546" y2="258.1" stroke="#727272" stroke-width="1.1"/>
</svg>
</body></html>
